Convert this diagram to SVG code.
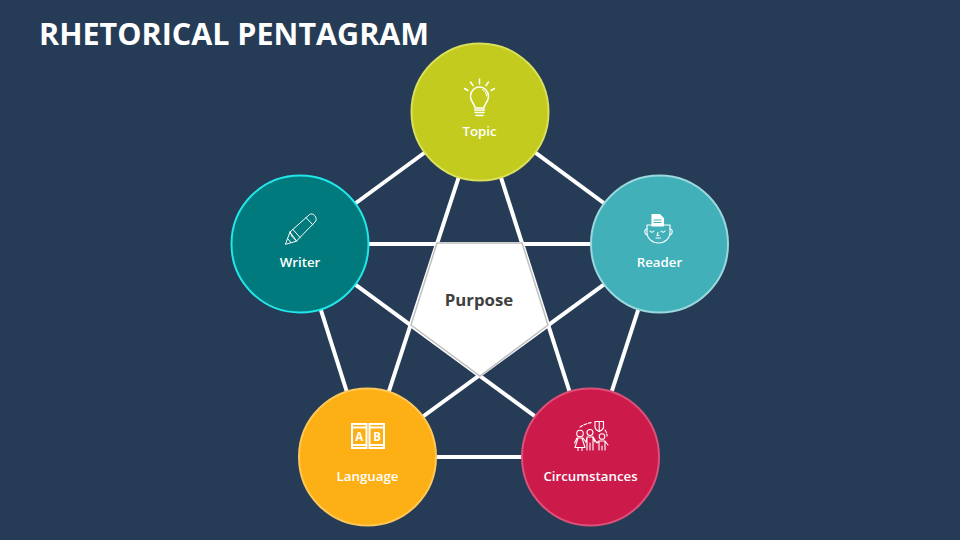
<svg xmlns="http://www.w3.org/2000/svg" width="960" height="540" viewBox="0 0 960 540">
<style>
.bg{fill:#253b56}
.c{stroke-width:2}
.lbl{font-family:"Open Sans",sans-serif;font-size:13.300px;font-weight:600;fill:#fff;text-anchor:middle}
.ic{fill:none;stroke:#fff;stroke-width:1.500;stroke-linecap:round;stroke-linejoin:round}
#connectors line{stroke:#fff;stroke-width:4}
</style>
<rect class="bg" width="960" height="540"/>
<text x="39" y="45" font-family="'Open Sans',sans-serif" font-size="30.500" font-weight="700" fill="#fff">RHETORICAL PENTAGRAM</text>
<g id="connectors">
<line x1="480" y1="112" x2="300" y2="244"/>
<line x1="480" y1="112" x2="659.500" y2="244"/>
<line x1="480" y1="112" x2="367.500" y2="457"/>
<line x1="480" y1="112" x2="590.500" y2="457"/>
<line x1="300" y1="244" x2="659.500" y2="244"/>
<line x1="300" y1="244" x2="367.500" y2="457"/>
<line x1="300" y1="244" x2="590.500" y2="457"/>
<line x1="659.500" y1="244" x2="590.500" y2="457"/>
<line x1="659.500" y1="244" x2="367.500" y2="457"/>
<line x1="367.500" y1="457" x2="590.500" y2="457"/>
</g>
<g id="purpose">
<polygon points="437,243 522,243 548,325 480,376 411,325" fill="#fff" stroke="#bfbfbf" stroke-width="1.500"/>
<text x="479" y="306" font-family="'Open Sans',sans-serif" font-size="16.800" font-weight="700" fill="#404040" text-anchor="middle">Purpose</text>
</g>
<g id="topic">
<circle class="c" cx="480" cy="112" r="68.500" fill="#c3cb1f" stroke="#dbe05c"/>
<g class="ic">
<path d="M475 108C475 104 470.500 102 470.500 96.500C470.500 91 474.500 87 479.500 87C484.500 87 488.500 91 488.500 96.500C488.500 102 484 104 484 108Z"/>
<path d="M482.500 89.500C485 90.500 486.500 93 486.500 96" stroke-width="1"/>
<path d="M474.500 110H484.500M475 112.500H484M476 115.500H483"/>
<path d="M479.500 79V84M470.500 82L473 85.500M488.500 82L486 85.500M464.500 88.500L468 90.500M494.500 88.500L491 90.500"/>
</g>
<text class="lbl" x="479.500" y="136">Topic</text>
</g>
<g id="writer">
<circle class="c" cx="300" cy="244" r="68.500" fill="#007a7c" stroke="#22e6e8"/>
<g class="ic" style="stroke-width:1">
<path d="M285.500 244L290 232L309 215C311 213 313.500 214 315 216C316.500 218 316.500 220.500 315 222L296.500 241Z"/>
<path d="M290 232L296.500 241M293 229.500L300 237.500M306 217.500L313 225M288 239L291 242.500M290 232L292 236.500L296.500 241"/>
</g>
<text class="lbl" x="300" y="267">Writer</text>
</g>
<g id="reader">
<circle class="c" cx="659.500" cy="244" r="68.500" fill="#41b0b9" stroke="#9bd8dc"/>
<g class="ic" style="stroke-width:1.100">
<path d="M652 226V214.500H659.500L663.500 218.500V226Z" fill="#fff"/>
<path d="M654 220H661M654 222.500H661" stroke="#41b0b9"/>
<path d="M647 225H670V232C670 238.500 665 243 658.500 243C652 243 647 238.500 647 232Z"/>
<path d="M647 229C643.500 229 644.500 235 647.500 235M670 229C673.500 229 672.500 235 669.500 235"/>
<path d="M650 231C651 232.500 653 232.500 654 231M661 231C662 232.500 664 232.500 665 231M658 232.500L657 235.500H659M656 238H660.500"/>
</g>
<text class="lbl" x="659.500" y="267">Reader</text>
</g>
<g id="language">
<circle class="c" cx="367.500" cy="457" r="68.500" fill="#fdb015" stroke="#fec858"/>
<g fill="none" stroke="#fff" stroke-width="2">
<rect x="352" y="424" width="14.500" height="24"/>
<rect x="369.500" y="424" width="14.500" height="24"/>
<path d="M352 427.500H366.500M352 445H366.500M369.500 427.500H384M369.500 445H384"/>
</g>
<text x="359.300" y="441" font-family="'Open Sans',sans-serif" font-size="11.500" font-weight="700" fill="#fff" text-anchor="middle">A</text>
<text x="377" y="441" font-family="'Open Sans',sans-serif" font-size="11.500" font-weight="700" fill="#fff" text-anchor="middle">B</text>
<text class="lbl" x="367.500" y="481">Language</text>
</g>
<g id="circumstances">
<circle class="c" cx="590.500" cy="457" r="68.500" fill="#cc1a4b" stroke="#dc5079"/>
<g class="ic" style="stroke-width:1.100">
<path d="M595 421.500H603.500V427C603.500 429 601.500 430.500 599.250 431.500C597 430.500 595 429 595 427Z"/>
<path d="M599.250 421.500V431.500"/>
<path d="M580 427C584 424.500 588 423 592 422.500M605 430C606.500 432 607 434 607 436" stroke-dasharray="3 1.500"/>
<circle cx="580" cy="433.500" r="3.300"/>
<circle cx="590" cy="432.500" r="3"/>
<circle cx="602" cy="436.500" r="2.800"/>
<path d="M575 447.500L578 438H582L585 447.500ZM577 438L574.500 443M583 438L586 442"/>
<path d="M578 447.500V450.500M582 447.500V450.500"/>
<path d="M586 442L587 437H593L595 442M587 437V450M593 437V450M590 443V450"/>
<path d="M593 437L597 443L599 441H605L608 445M599 441V450M605 441V450M602 446V450"/>
</g>
<text class="lbl" x="590.500" y="481">Circumstances</text>
</g>
</svg>
